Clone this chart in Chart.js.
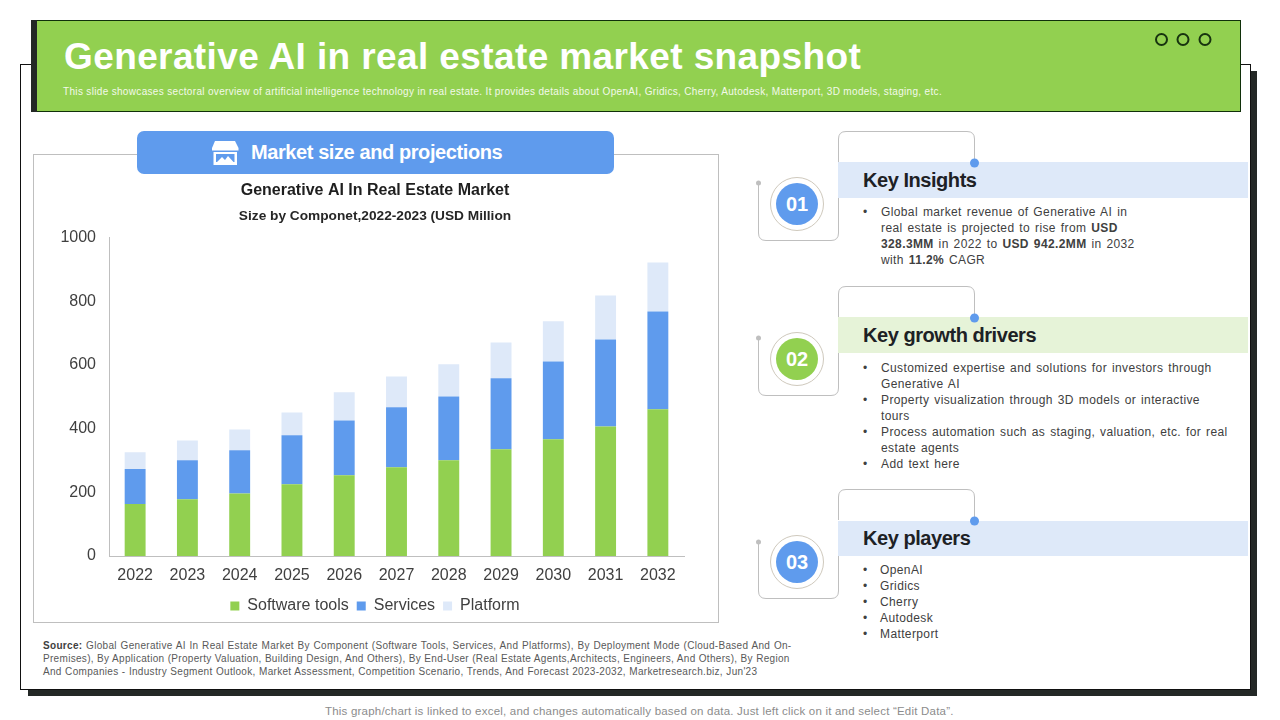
<!DOCTYPE html>
<html>
<head>
<meta charset="utf-8">
<title>Generative AI in real estate market snapshot</title>
<script src="https://cdn.jsdelivr.net/npm/chart.js@4"></script>
<style>
html, body { margin: 0; padding: 0; background: #fff; }
body { width: 1280px; height: 720px; position: relative; overflow: hidden; font-family: "Liberation Sans", Arial, sans-serif; color: #404040; }
.abs { position: absolute; }
.line { position: absolute; white-space: nowrap; font-size: 12px; line-height: 16px; word-spacing: 1.2px; letter-spacing: .38px; }
.bullet { position: absolute; left: 863px; font-size: 12px; line-height: 16px; }
.band { position: absolute; left: 838px; width: 410px; height: 36px; }
.band span { position: absolute; left: 25px; top: 6px; font-size: 20px; line-height: 24px; font-weight: bold; color: #1d2125; letter-spacing: -.45px; white-space: nowrap; }
.num { position: absolute; width: 42px; height: 42px; border-radius: 50%; color: #fff; font-weight: bold; font-size: 20px; line-height: 42px; text-align: center; }
.ring { position: absolute; width: 52px; height: 52px; border-radius: 50%; border: 1px solid #cfc9bd; background: #fff; }
.src { position: absolute; left: 43px; white-space: nowrap; font-size: 10px; line-height: 13px; color: #595959; letter-spacing: .31px; }
</style>
</head>
<body>
<!-- slide frame -->
<div class="abs" style="left:28px;top:71px;width:1229px;height:625px;background:#232826"></div>
<div class="abs" style="left:20px;top:64px;width:1229px;height:624px;background:#fff;border:1px solid #111"></div>

<!-- header -->
<div class="abs" style="left:31px;top:20px;width:1208px;height:90px;background:#92d050;border:1px solid #10300a"></div>
<div class="abs" style="left:31px;top:20px;width:6px;height:92px;background:#232826"></div>
<div class="abs" style="left:64px;top:35px;font-size:37px;line-height:44px;font-weight:bold;color:#fff;letter-spacing:.39px;white-space:nowrap">Generative AI in real estate market snapshot</div>
<div class="abs" style="left:63px;top:85px;font-size:10px;line-height:14px;color:#f2f9ea;white-space:nowrap;letter-spacing:.33px">This slide showcases sectoral overview of artificial intelligence technology in real estate. It provides details about OpenAI, Gridics, Cherry, Autodesk, Matterport, 3D models, staging, etc.</div>
<svg class="abs" style="left:1150px;top:28px" width="70" height="24" fill="none" stroke="#17330f" stroke-width="2">
  <circle cx="11.500" cy="11.500" r="5.500"/><circle cx="33" cy="11.500" r="5.500"/><circle cx="55" cy="11.500" r="5.500"/>
</svg>

<!-- chart box -->
<div class="abs" style="left:33px;top:154px;width:684px;height:467px;border:1px solid #bfbfbf"></div>
<canvas id="marketChart" class="abs" style="left:34px;top:155px" width="684" height="469"></canvas>
<div class="abs" style="left:137px;top:131px;width:477px;height:43px;background:#5f9bed;border-radius:7px"></div>
<svg class="abs" style="left:212px;top:141px" width="27" height="24">
  <path d="M3 0H23L26.500 7V9.500H0V7Z" fill="#fff"/>
  <path d="M1.500 11H25V24H1.500Z" fill="#fff"/>
  <path d="M4 13H22.500V21H4Z" fill="#5f9bed"/>
  <path d="M5 21L10 16L13 19L16 15L21.500 21Z" fill="#fff"/>
</svg>
<div class="abs" style="left:251px;top:140px;font-size:20px;line-height:24px;font-weight:bold;color:#fff;letter-spacing:-.41px;white-space:nowrap">Market size and projections</div>

<!-- source -->
<div class="src" style="top:639px;word-spacing:.6px"><b style="color:#404040">Source:</b> Global Generative AI In Real Estate Market By Component (Software Tools, Services, And Platforms), By Deployment Mode (Cloud-Based And On-</div>
<div class="src" style="top:652px;word-spacing:.15px">Premises), By Application (Property Valuation, Building Design, And Others), By End-User (Real Estate Agents,Architects, Engineers, And Others), By Region</div>
<div class="src" style="top:665px;word-spacing:.3px">And Companies - Industry Segment Outlook, Market Assessment, Competition Scenario, Trends, And Forecast 2023-2032, Marketresearch.biz, Jun'23</div>
<div class="abs" style="left:325px;top:704px;font-size:11.500px;line-height:14px;color:#8c8c8c;white-space:nowrap;letter-spacing:.21px">This graph/chart is linked to excel, and changes automatically based on data. Just left click on it and select “Edit Data”.</div>

<!-- connector outlines -->
<svg class="abs" style="left:750px;top:120px" width="240" height="490" fill="none" stroke="#bfbfbf" stroke-width="1">
  <path d="M88.500 42V19Q88.500 11.500 96 11.500H217Q224.500 11.500 224.500 19V42"/>
  <path d="M8.500 63V113Q8.500 120.500 16 120.500H81Q88.500 120.500 88.500 113V78"/>
  <path d="M88.500 197V174Q88.500 166.500 96 166.500H217Q224.500 166.500 224.500 174V197"/>
  <path d="M8.500 218V268Q8.500 275.500 16 275.500H81Q88.500 275.500 88.500 268V233"/>
  <path d="M88.500 400V377Q88.500 369.500 96 369.500H217Q224.500 369.500 224.500 377V400"/>
  <path d="M8.500 421V471Q8.500 478.500 16 478.500H81Q88.500 478.500 88.500 471V436"/>
</svg>

<!-- panel 01 -->
<div class="band" style="top:162px;background:#dee9f9"><span>Key Insights</span></div>
<div class="ring" style="left:770px;top:177px"></div>
<div class="num" style="left:776px;top:183px;background:#5f9bed">01</div>
<div class="bullet" style="top:204px">•</div>
<div class="line" style="left:881px;top:204px">Global market revenue of Generative AI in</div>
<div class="line" style="left:881px;top:220px">real estate is projected to rise from <b>USD</b></div>
<div class="line" style="left:881px;top:236px"><b>328.3MM</b> in 2022 to <b>USD 942.2MM</b> in 2032</div>
<div class="line" style="left:881px;top:252px">with <b>11.2%</b> CAGR</div>

<!-- panel 02 -->
<div class="band" style="top:317px;background:#e6f3d8"><span>Key growth drivers</span></div>
<div class="ring" style="left:770px;top:332px"></div>
<div class="num" style="left:776px;top:338px;background:#92d050">02</div>
<div class="bullet" style="top:360px">•</div>
<div class="line" style="left:881px;top:360px">Customized expertise and solutions for investors through</div>
<div class="line" style="left:881px;top:376px">Generative AI</div>
<div class="bullet" style="top:392px">•</div>
<div class="line" style="left:881px;top:392px">Property visualization through 3D models or interactive</div>
<div class="line" style="left:881px;top:408px">tours</div>
<div class="bullet" style="top:424px">•</div>
<div class="line" style="left:881px;top:424px">Process automation such as staging, valuation, etc. for real</div>
<div class="line" style="left:881px;top:440px">estate agents</div>
<div class="bullet" style="top:456px">•</div>
<div class="line" style="left:881px;top:456px">Add text here</div>

<!-- panel 03 -->
<div class="band" style="top:521px;height:35px;background:#dee9f9"><span style="top:5px">Key players</span></div>
<div class="ring" style="left:770px;top:535px"></div>
<div class="num" style="left:776px;top:541px;background:#5f9bed">03</div>
<div class="bullet" style="top:562px">•</div><div class="line" style="left:880px;top:562px">OpenAI</div>
<div class="bullet" style="top:578px">•</div><div class="line" style="left:880px;top:578px">Gridics</div>
<div class="bullet" style="top:594px">•</div><div class="line" style="left:880px;top:594px">Cherry</div>
<div class="bullet" style="top:610px">•</div><div class="line" style="left:880px;top:610px">Autodesk</div>
<div class="bullet" style="top:626px">•</div><div class="line" style="left:880px;top:626px">Matterport</div>

<!-- connector dots -->
<svg class="abs" style="left:750px;top:120px" width="240" height="490">
  <circle cx="224.500" cy="43" r="4.500" fill="#5f9bed"/><circle cx="8.500" cy="63" r="2.500" fill="#bfbfbf"/>
  <circle cx="224.500" cy="198" r="4.500" fill="#5f9bed"/><circle cx="8.500" cy="218" r="2.500" fill="#bfbfbf"/>
  <circle cx="224.500" cy="401" r="4.500" fill="#5f9bed"/><circle cx="8.500" cy="422" r="2.500" fill="#bfbfbf"/>
</svg>

<script>
const years = ['2022', '2023', '2024', '2025', '2026', '2027', '2028', '2029', '2030', '2031', '2032'];
const softwareTools = [163, 178, 196, 225, 254, 279, 301, 335, 367, 407, 461];
const services = [110, 123, 136, 154, 172, 188, 200, 223, 244, 273, 307];
const platform = [53, 62, 65, 72, 88, 97, 101, 113, 126, 138, 154];

function makeDataset(label, data, color) {
    return { label: label, data: data, backgroundColor: color, barPercentage: 0.4, categoryPercentage: 1 };
}

// the y axis box is narrow so the title centres right, let its labels draw past the box
const widenAxisClip = {
    id: 'widenAxisClip',
    beforeDraw(chart) {
        chart.scales.y.left = 0;
    }
};

new Chart(document.getElementById('marketChart').getContext('2d'), {
    type: 'bar',
    plugins: [widenAxisClip],
    data: {
        labels: years,
        datasets: [
            makeDataset('Software tools', softwareTools, '#92d050'),
            makeDataset('Services', services, '#5f9bed'),
            makeDataset('Platform', platform, '#dee9f9')
        ]
    },
    options: {
        responsive: false,
        animation: false,
        devicePixelRatio: 1,
        layout: { padding: { top: 26, right: 34, bottom: 0, left: 32 } },
        plugins: {
            tooltip: { enabled: false },
            title: {
                display: true,
                text: 'Generative AI In Real Estate Market',
                color: '#1f1f1f',
                font: { family: '"Liberation Sans"', size: 16, weight: 'bold' },
                padding: { top: 0, bottom: 8 }
            },
            subtitle: {
                display: true,
                text: 'Size by Componet,2022-2023 (USD Million',
                color: '#262626',
                font: { family: '"Liberation Sans"', size: 13.7, weight: 'bold' },
                padding: { top: 0, bottom: 13 }
            },
            legend: {
                position: 'bottom',
                labels: {
                    boxWidth: 9,
                    boxHeight: 9,
                    padding: 8,
                    color: '#404040',
                    font: { family: '"Liberation Sans"', size: 16 }
                }
            }
        },
        scales: {
            x: {
                stacked: true,
                afterFit: scale => { scale.height = 34; },
                grid: { display: false, drawTicks: false },
                border: { color: '#bfbfbf' },
                ticks: { color: '#404040', padding: 10, maxRotation: 0, font: { family: '"Liberation Sans"', size: 16 } }
            },
            y: {
                stacked: true,
                min: 0,
                max: 1000,
                afterFit: scale => { scale.width = 43; },
                grid: { display: false, drawTicks: false },
                border: { color: '#bfbfbf' },
                ticks: { stepSize: 200, color: '#404040', padding: 13, callback: value => String(value), font: { family: '"Liberation Sans"', size: 16 } }
            }
        }
    }
});
</script>
</body>
</html>
